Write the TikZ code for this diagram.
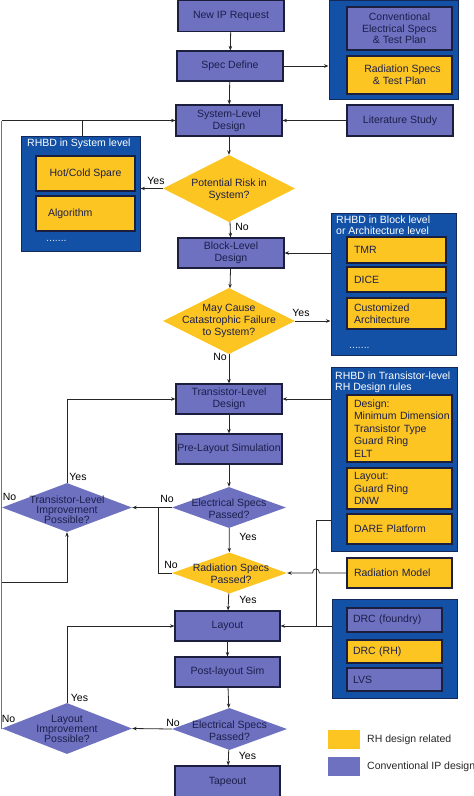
\documentclass[tikz,border=0pt]{standalone}
\usepackage{fontspec}
\setmainfont{Liberation Sans}
\usetikzlibrary{arrows.meta,shapes.geometric}
\definecolor{purp}{HTML}{6D71C0}
\definecolor{yel}{HTML}{FCC521}
\definecolor{cont}{HTML}{1351A6}
\definecolor{edge}{HTML}{1B1E3C}
\definecolor{cedge}{HTML}{14285A}
\definecolor{txt}{HTML}{1C1F4A}
\hyphenpenalty=10000
\begin{document}
\begin{tikzpicture}[x=1pt,y=-1pt,
  every node/.style={font=\fontsize{10.5}{12.4}\selectfont, text=txt, inner sep=0pt},
  pbox/.style={draw=edge, line width=1.1pt, fill=purp, minimum width=106pt, minimum height=30pt, align=center},
  ybox/.style={pbox, fill=yel},
  lft/.style={text width=#1, align=left, inner xsep=7pt},
  container/.style={draw=cedge, line width=1pt, fill=cont},
  ctitle/.style={text=white, anchor=west, align=left, font=\fontsize{10.5}{10.5}\selectfont},
  dots/.style={text=white!85!cont, anchor=west},
  pdia/.style={diamond, fill=purp, draw=none, inner sep=0pt},
  ydia/.style={diamond, fill=yel, draw=none, inner sep=0pt},
  dtext/.style={align=center},
  ttext/.style={align=center, font=\fontsize{10.5}{10}\selectfont},
  conn/.style={draw=black!85, line width=0.8pt},
  arr/.style={conn, -{Stealth[length=4.5pt,width=3.5pt]}},
  lbl/.style={font=\fontsize{10.5}{12}\selectfont, text=black}
]
\useasboundingbox (0,0) rectangle (474,796);
\clip (0,0) rectangle (474,796);

% containers
\node[container, minimum width=129pt, minimum height=98.5pt] (convC) at (393.5,49.75) {};
\node[container, minimum width=119pt, minimum height=115pt] (sysC) at (80.5,193.5) {};
\node[container, minimum width=125pt, minimum height=142pt] (blkC) at (393.5,284) {};
\node[container, minimum width=126pt, minimum height=184pt] (trC) at (394,459) {};
\node[container, minimum width=125pt, minimum height=99pt] (drcC) at (394.5,648.5) {};

% main flow
\node[pbox, minimum height=31pt] (newip) at (231,16) {New IP Request};
\node[pbox] (spec) at (230,66) {Spec Define};
\node[pbox, minimum height=31pt] (sys) at (229,120.5) {System-Level\\Design};
\node[ydia, minimum width=132pt, minimum height=67pt] (risk) at (229,188.5) {};
\node[dtext] (riskt) at (229,190) {Potential Risk in\\System?};
\node[pbox] (blk) at (231,253) {Block-Level\\Design};
\node[ydia, minimum width=132pt, minimum height=66pt] (cat) at (229,321) {};
\node[dtext, font=\fontsize{10.5}{11.6}\selectfont] (catt) at (229,321) {May Cause\\Catastrophic Failure\\to System?};
\node[pbox] (trd) at (229,399) {Transistor-Level\\Design};
\node[pbox] (pre) at (229,449) {Pre-Layout Simulation};
\node[pdia, minimum width=114pt, minimum height=41pt] (elec1) at (229,507.5) {};
\node[dtext] (elec1t) at (229,509) {Electrical Specs\\Passed?};
\node[ydia, minimum width=115pt, minimum height=41pt] (rad) at (229.5,573) {};
\node[dtext] (radt) at (231,573.5) {Radiation Specs\\Passed?};
\node[pdia, minimum width=130pt, minimum height=49pt] (tli) at (67,507.5) {};
\node[ttext] (tlit) at (67,509.5) {Transistor-Level\\Improvement\\Possible?};
\node[pbox, minimum width=105pt] (lay) at (227.5,626) {Layout};
\node[pbox, minimum width=105pt] (post) at (227.5,672) {Post-layout Sim};
\node[pdia, minimum width=115pt, minimum height=42pt] (elec2) at (229.5,729) {};
\node[dtext] (elec2t) at (229.5,731) {Electrical Specs\\Passed?};
\node[pdia, minimum width=130pt, minimum height=51pt] (lli) at (67,728.5) {};
\node[ttext] (llit) at (67,728.5) {Layout\\Improvement\\Possible?};
\node[pbox, minimum width=105pt, minimum height=34pt] (tape) at (227.5,783) {\raisebox{4pt}{Tapeout}};

% top right
\node[pbox, minimum width=105pt, minimum height=43pt, font=\fontsize{10.5}{11.6}\selectfont] (conv) at (399.5,28.5) {Conventional\\Electrical Specs\\\& Test Plan};
\node[ybox, minimum width=105pt, minimum height=38pt] (radspec) at (399.5,75) {\hspace*{6pt}Radiation Specs\\\& Test Plan};
\node[pbox, minimum width=106pt, minimum height=31pt] (lit) at (400,120.5) {Literature Study};

% system level container contents
\node[ctitle] (sysT) at (27,144) {RHBD in System level};
\node[ybox, minimum width=99pt, minimum height=35pt] (hot) at (85.5,173.5) {Hot/Cold Spare};
\node[ybox, lft=75pt, inner xsep=12pt, minimum width=99pt, minimum height=35pt] (algo) at (85.5,213.5) {Algorithm};
\node[dots] (sysD) at (46,241) {.......};

% block level container contents
\node[ctitle] (blkT) at (336,225) {RHBD in Block level\\or Architecture level};
\node[ybox, lft=85pt, minimum width=99pt, minimum height=26pt] (tmr) at (396.5,250) {TMR};
\node[ybox, lft=85pt, minimum width=99pt, minimum height=25pt] (dice) at (396.5,279.5) {DICE};
\node[ybox, lft=85pt, minimum width=99pt, minimum height=31pt] (cust) at (396.5,313.5) {Customized\\Architecture};
\node[dots] (blkD) at (349,348) {.......};

% transistor level container contents
\node[ctitle] (trT) at (335,382.5) {RHBD in Transistor-level\\RH Design rules};
\node[ybox, lft=91pt, minimum width=105pt, minimum height=67pt] (desg) at (399.5,428.5) {Design:\\\mbox{Minimum Dimension}\\Transistor Type\\Guard Ring\\ELT};
\node[ybox, lft=91pt, minimum width=105pt, minimum height=41pt] (layb) at (399.5,488.5) {Layout:\\Guard Ring\\DNW};
\node[ybox, lft=91pt, minimum width=105pt, minimum height=30pt] (dare) at (399.5,529) {DARE Platform};
\node[ybox, lft=91pt, minimum width=105pt, minimum height=30pt] (radmod) at (399.5,573) {Radiation Model};

% drc container contents
\node[pbox, lft=83pt, inner xsep=6pt, minimum width=95pt, minimum height=24pt] (drcf) at (394.5,620) {DRC (foundry)};
\node[ybox, lft=83pt, inner xsep=6pt, minimum width=95pt, minimum height=23pt] (drcr) at (394.5,651.5) {DRC (RH)};
\node[pbox, lft=83pt, inner xsep=6pt, minimum width=95pt, minimum height=23pt] (lvs) at (394.5,679.5) {LVS};

% legend
\node[fill=yel, minimum width=32pt, minimum height=19pt] (legy) at (344,739.5) {};
\node[anchor=west, text=black!85] (legyt) at (367,740) {RH design related};
\node[fill=purp, minimum width=32pt, minimum height=19pt] (legp) at (344,766.5) {};
\node[anchor=west, text=black!85] (legpt) at (367,767) {Conventional IP design};

% connectors
\draw[arr] (newip) -- (spec);
\draw[arr] (spec) -- (sys);
\draw[arr] (spec.east) -- (spec.east -| convC.west);
\draw[arr] (lit) -- (sys);
\draw[arr] (sys) -- (risk);
\draw[arr] (risk.west) -- (risk.west -| sysC.east);
\draw[arr] (risk) -- (blk);
\draw[arr] (blkC.west |- blk.east) -- (blk.east);
\draw[arr] (blk) -- (cat);
\draw[arr] (cat.east) -- (cat.east -| blkC.west);
\draw[arr] (cat) -- (trd);
\draw[arr] (trC.west |- trd.east) -- (trd.east);
\draw[arr] (trd) -- (pre);
\draw[arr] (pre) -- (elec1);
\draw[arr] (elec1.west) -- (tli.east);
\draw[arr] (elec1) -- (rad);
\coordinate (rj) at (158,507.5);
\draw[conn] (rad.west) -| (rj);
\draw[arr] (tli.north) |- (trd.west);
% left loop
\coordinate (lt) at (1.5,120.5);
\coordinate (ll) at (1.5,728.5);
\draw[conn, draw=black!55, line width=1.6pt] (ll) -- (lt);
\draw[arr] (lt) -- (sys.west);
\coordinate (br) at (82,120.5);
\draw[conn] (br) -- (br |- sysC.north);
\coordinate (lb) at (1.5,582);
\draw[arr] (lb) -| (tli.south);
% right bracket to layout
\coordinate (jx) at (316,520);
\draw[arr] (trC.west |- jx) -- (jx) |- (lay.east);
\draw[conn] (drcC.west |- lay.east) -- (lay.east -| jx);
\coordinate (h1) at (319.5,573);
\coordinate (h2) at (312.5,573);
\draw[arr] (radmod.west) -- (h1) .. controls (319.5,567.5) and (312.5,567.5) .. (h2) -- (rad.east);
\draw[arr] (rad) -- (lay);
\draw[arr] (lay) -- (post);
\draw[arr] (post) -- (elec2);
\draw[arr] (elec2.west) -- (lli.east);
\draw[arr] (lli.north) |- (lay.west);
\draw[arr] (elec2) -- (tape);

% labels
\node[lbl] (l1) at (156,181) {Yes};
\node[lbl] (l2) at (242,227) {No};
\node[lbl] (l3) at (301,313) {Yes};
\node[lbl] (l4) at (220,357) {No};
\node[lbl] (l5) at (167,499) {No};
\node[lbl] (l6) at (248,537) {Yes};
\node[lbl] (l7) at (171,565) {No};
\node[lbl] (l8) at (78,477) {Yes};
\node[lbl] (l9) at (9.5,497) {No};
\node[lbl] (l10) at (248,600) {Yes};
\node[lbl] (l11) at (79.5,698) {Yes};
\node[lbl] (l12) at (8.5,719) {No};
\node[lbl] (l13) at (173,723) {No};
\node[lbl] (l14) at (247.5,756) {Yes};
\end{tikzpicture}
\end{document}
